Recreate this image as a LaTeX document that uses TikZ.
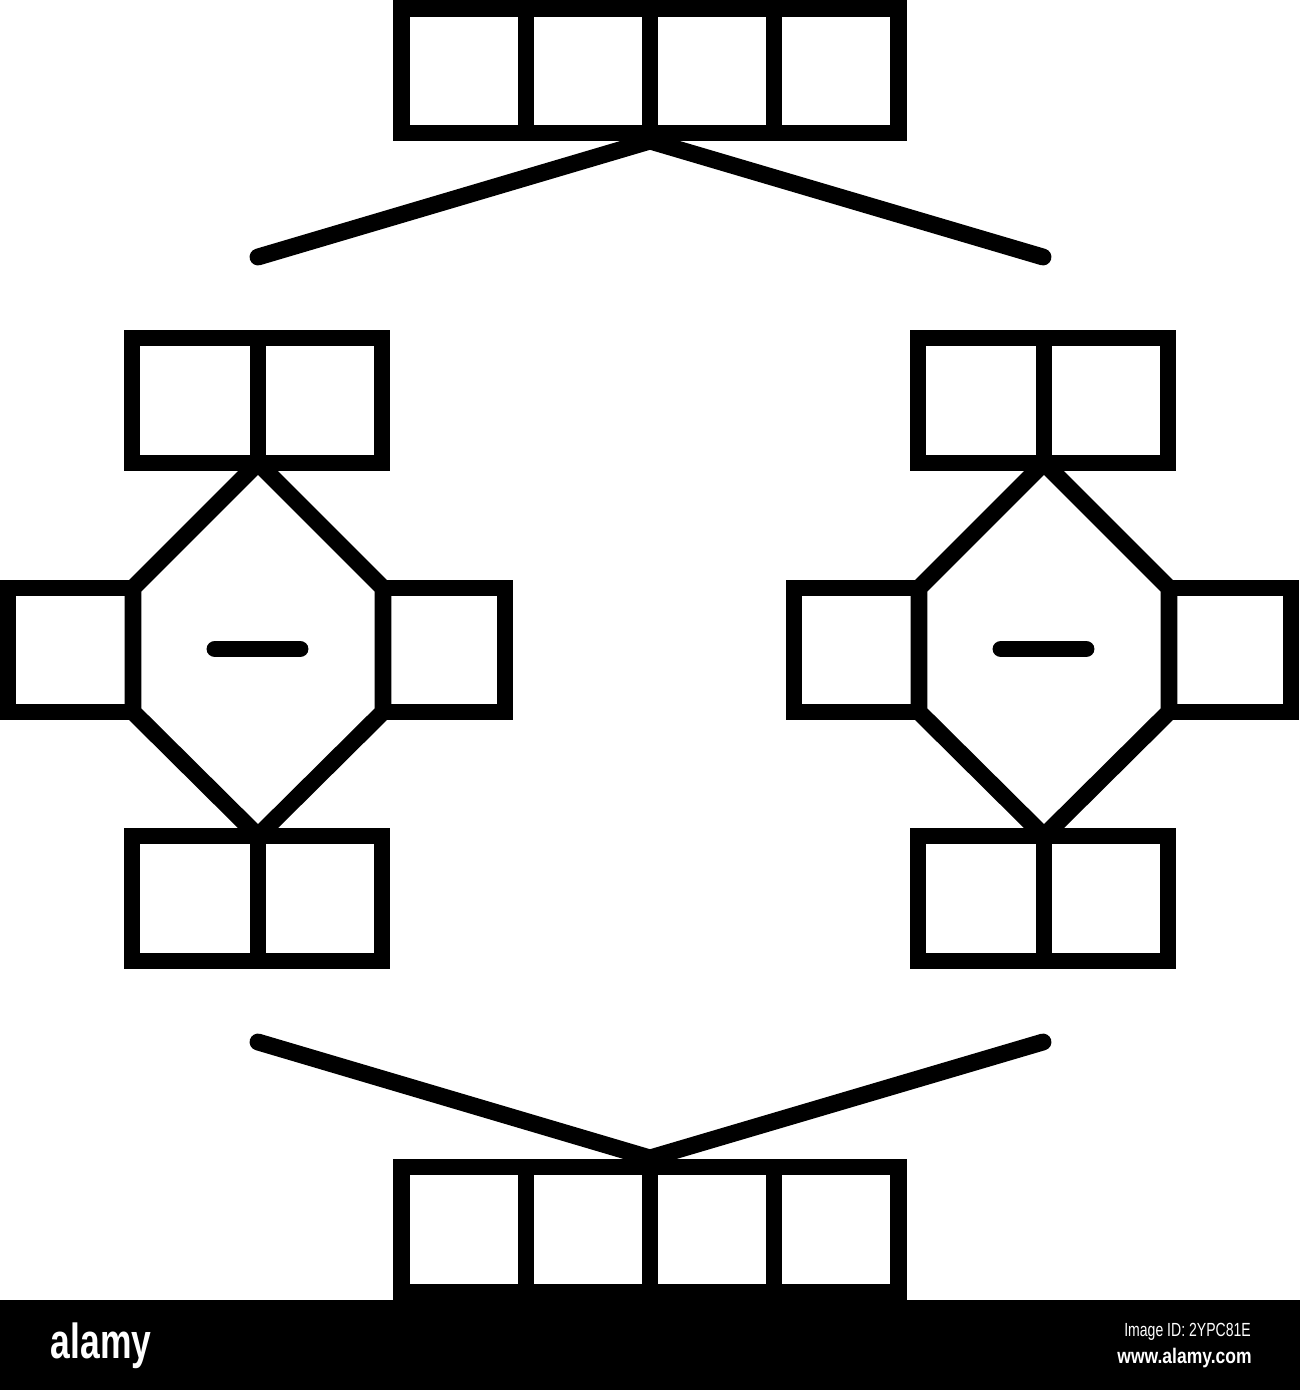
\documentclass[tikz,border=0pt]{standalone}
\usepackage{fontspec}
\setmainfont{Liberation Sans}
\begin{document}
\begin{tikzpicture}[x=0.01cm,y=-0.01cm,
  ln/.style={line width=4.8pt,line join=miter},
  rl/.style={line width=4.8pt,line cap=round,line join=miter}]
\useasboundingbox (0,0) rectangle (1300,1390);
% top and bottom rows of four cells
\foreach \y/\yy in {8.5/133, 1167/1292}{
  \draw[ln] (401.5,\y) rectangle (898.5,\yy);
  \foreach \x in {526,650,774} \draw[ln] (\x,\y) -- (\x,\yy);
}
% connectors
\coordinate (tapex) at (650,141);
\coordinate (tl) at (258,257);
\coordinate (tr) at (1043,257);
\coordinate (bapex) at (650,1158);
\coordinate (bl) at (258,1042);
\coordinate (br) at (1043,1042);
\draw[rl] (tl) -- (tapex) -- (tr);
\draw[rl] (bl) -- (bapex) -- (br);
% two side groups
\foreach \dx in {0,786}{
\begin{scope}[xshift=\dx*0.01cm]
  \draw[ln] (132,338) rectangle (382,463);
  \draw[ln] (258,338) -- (258,463);
  \draw[ln] (132,836) rectangle (382,961);
  \draw[ln] (258,836) -- (258,961);
  \draw[ln] (8,588) rectangle (133,712);
  \draw[ln] (383,588) rectangle (505,712);
  \draw[ln] (258,463) -- (133,588) -- (133,712) -- (258,836) -- (383,712) -- (383,588) -- cycle;
  \draw[rl] (215,649) -- (300,649);
\end{scope}
}
% watermark bar
\fill[black] (0,1300) rectangle (1300,1390);
\node[white,font=\bfseries\fontsize{14}{14}\selectfont,xscale=0.72,anchor=center] (logo) at (101,1346) {alamy};
\node[white,font=\fontsize{5.4}{6}\selectfont,xscale=0.74,anchor=east] (imgid) at (1260,1332) {Image ID: 2YPC81E};
\node[white,font=\bfseries\fontsize{6}{7}\selectfont,xscale=0.83,anchor=east] (www) at (1262,1358) {www.alamy.com};
\end{tikzpicture}
\end{document}
